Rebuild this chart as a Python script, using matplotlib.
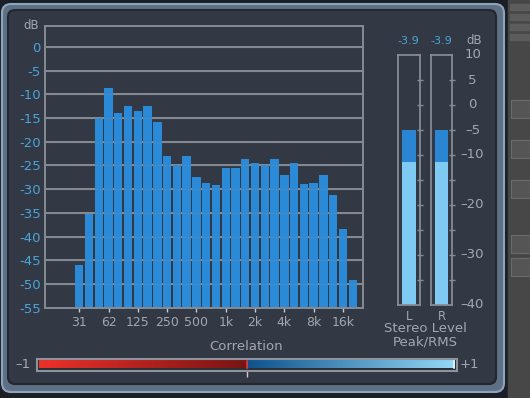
import matplotlib
matplotlib.use("Agg")
import matplotlib.pyplot as plt
import matplotlib.transforms as mtransforms
from matplotlib.patches import FancyBboxPatch, Rectangle
import numpy as np

BANDS = ['31', '40', '50', '62', '80', '100', '125', '160', '200', '250',
         '315', '400', '500', '630', '800', '1k', '1.25k', '1.6k', '2k', '2.5k',
         '3.15k', '4k', '5k', '6.3k', '8k', '10k', '12.5k', '16k', '20k']
LEVELS = [-46.0, -35.2, -14.9, -8.7, -13.9, -12.4, -13.4, -12.4, -15.9, -23.1,
          -25.0, -23.1, -27.5, -28.6, -29.2, -25.5, -25.5, -23.6, -24.5, -24.9,
          -23.6, -26.9, -24.5, -28.9, -28.6, -27.1, -31.2, -38.4, -49.2]
FREQ_LABELS = ['31', '62', '125', '250', '500', '1k', '2k', '4k', '8k', '16k']
DB_TICKS = [0, -5, -10, -15, -20, -25, -30, -35, -40, -45, -50, -55]

# stereo level meters
CHANNELS = ['L', 'R']
PEAK = [-5.0, -5.0]
RMS = [-11.4, -11.4]
READOUT = ['-3.9', '-3.9']
METER_LABELS = [10, 5, 0, -5, -10, -20, -30, -40]
METER_MARKS = [5, 0, -5, -10, -15, -20, -25, -30, -35]

CORR_RANGE = [-1, 1]

W, H = 530, 398
BAR = '#2b8ad8'
PEAK_C = '#2a86d2'
RMS_C = '#7ecaf2'
GRID = '#868c94'
TXT = '#a2a8b0'
BLUE_TXT = '#4aa4da'
PANEL = '#323944'

fig = plt.figure(figsize=(W / 100, H / 100), dpi=100)
fig.patch.set_facecolor('#1b1f25')


def px_axes(x0, y0, x1, y1, z=1):
    return fig.add_axes([x0 / W, 1 - y1 / H, (x1 - x0) / W, (y1 - y0) / H], zorder=z)


# background / panel chrome in pixel coords
bg = px_axes(0, 0, W, H, z=0)
bg.set_xlim(0, W)
bg.set_ylim(H, 0)
bg.axis('off')
bg.add_patch(Rectangle((508, 0), 22, H, color='#474747'))
for yy in [4, 14, 24, 34]:
    bg.add_patch(Rectangle((510, yy), 20, 6, color='#5c5c5c'))
for yy in [100, 140, 180, 235, 258]:
    bg.add_patch(Rectangle((511, yy), 19, 18, facecolor='#555555', edgecolor='#6a6a6a', lw=0.8))
bg.add_patch(FancyBboxPatch((2, 4), 502, 388, boxstyle='round,pad=0,rounding_size=9',
                            facecolor='#5d7086', edgecolor='#8ea4bc', lw=1.5))
bg.add_patch(FancyBboxPatch((8, 10), 488, 374, boxstyle='round,pad=0,rounding_size=7',
                            facecolor=PANEL, edgecolor='#232830', lw=1.5))

# spectrum
ax = px_axes(45, 26, 363, 307.7, z=2)
ax.patch.set_alpha(0)
x = np.arange(len(BANDS))
ax.set_xlim(-3.5, 29.05)
ax.set_ylim(-55, 4.43)
for v in DB_TICKS[:-1]:
    ax.axhline(v, color=GRID, lw=1.4, zorder=1)
ax.bar(x, [l - DB_TICKS[-1] for l in LEVELS], bottom=DB_TICKS[-1], width=0.86,
       color=BAR, zorder=2)
for v in DB_TICKS[:-1]:
    ax.axhline(v, color=GRID, lw=1.0, alpha=0.25, zorder=3)
for s in ax.spines.values():
    s.set_color(GRID)
    s.set_linewidth(1.4)
ax.set_yticks(DB_TICKS)
ax.set_yticklabels([str(v) for v in DB_TICKS])
ax.tick_params(axis='y', length=0, pad=3, labelsize=9.5, labelcolor=BLUE_TXT)
ax.set_xticks([BANDS.index(f) for f in FREQ_LABELS])
ax.set_xticklabels(FREQ_LABELS)
ax.tick_params(axis='x', length=3, width=1, color='#c8ccd2', pad=3,
               labelsize=9, labelcolor=TXT)
bg.text(31.5, 25.5, 'dB', color=TXT, fontsize=8.5, ha='center', va='center')

# level meters
meter_x = [(397.5, 420), (431, 452)]
for i, ch in enumerate(CHANNELS):
    m = px_axes(meter_x[i][0], 55, meter_x[i][1], 305, z=2)
    m.patch.set_alpha(0)
    m.set_xlim(0, 1)
    m.set_ylim(-40, 10)
    m.bar(0.5, PEAK[i] + 40, bottom=-40, width=0.64, color=PEAK_C)
    m.bar(0.5, RMS[i] + 40, bottom=-40, width=0.64, color=RMS_C)
    for s in m.spines.values():
        s.set_color(GRID)
        s.set_linewidth(1.3)
    m.set_xticks([])
    m.yaxis.tick_right()
    m.set_yticks(METER_MARKS)
    m.tick_params(axis='y', direction='inout', length=4, width=1, color=GRID,
                  labelright=False)
    cx = (meter_x[i][0] + meter_x[i][1]) / 2
    bg.text(cx, 40.5, READOUT[i], color=BLUE_TXT, fontsize=8, ha='center', va='center')
    bg.text(cx + 0.5, 316.5, ch, color=TXT, fontsize=8.5, ha='center', va='center')
    if i == 1:
        tr = mtransforms.blended_transform_factory(bg.transData, m.transData)
        for v in METER_LABELS:
            lab = str(v) if v >= 0 else '\u2013' + str(-v)
            m.text(472.5, v, lab, transform=tr, color=TXT, fontsize=9.5,
                   ha='center', va='center', clip_on=False)
bg.text(474.5, 40, 'dB', color=TXT, fontsize=8.5, ha='center', va='center')
bg.text(425, 329, 'Stereo Level', color=TXT, fontsize=9.5, ha='center', va='center')
bg.text(425.5, 342, 'Peak/RMS', color=TXT, fontsize=9.5, ha='center', va='center')

# correlation meter
c = px_axes(37, 358.5, 456.5, 370.5, z=2)
c.set_facecolor('#2a2f37')
c.set_xlim(CORR_RANGE[0], CORR_RANGE[1])
c.set_ylim(0, 1)
t = np.linspace(0, 1, 256)[None, :, None]
red = (1 - t) * np.array([0.93, 0.19, 0.16]) + t * np.array([0.47, 0.08, 0.08])
blue = (1 - t) * np.array([0.06, 0.32, 0.55]) + t * np.array([0.58, 0.85, 0.97])
c.imshow(red, extent=(CORR_RANGE[0] + 0.01, 0, 0.17, 0.83), aspect='auto')
c.imshow(blue, extent=(0, CORR_RANGE[1] - 0.01, 0.17, 0.83), aspect='auto')
c.axvline(0, ymin=0.17, ymax=0.83, color='#e8383a', lw=1.2)
c.axvline(CORR_RANGE[1] - 0.014, ymin=0.17, ymax=0.83, color='#e8f4fa', lw=1.2)
c.set_xlim(CORR_RANGE[0], CORR_RANGE[1])
c.set_ylim(0, 1)
for s in c.spines.values():
    s.set_color('#8d939b')
    s.set_linewidth(1.5)
c.set_yticks([])
c.set_xticks([0])
c.set_xticklabels([])
c.tick_params(axis='x', length=4, width=1, color='#c8ccd2')
bg.text(246, 347, 'Correlation', color=TXT, fontsize=9.5, ha='center', va='center')
bg.text(23, 364, '\u20131', color=TXT, fontsize=9.5, ha='center', va='center')
bg.text(469, 364, '+1', color=TXT, fontsize=9.5, ha='center', va='center')

fig.savefig('out.png', dpi=100, facecolor=fig.get_facecolor())
